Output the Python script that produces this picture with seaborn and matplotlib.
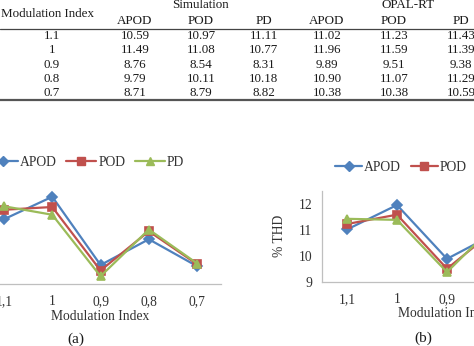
import matplotlib
matplotlib.use("Agg")
import matplotlib.pyplot as plt
from matplotlib.lines import Line2D
import seaborn as sns
import pandas as pd

# ---- data ----
mod_index_table = ["1.1", "1", "0.9", "0.8", "0.7"]
mod_index_axis = ["1,1", "1", "0,9", "0,8", "0,7"]
methods = ["APOD", "POD", "PD"]
sim_apod = [10.59, 11.49, 8.76, 9.79, 8.71]
sim_pod = [10.97, 11.08, 8.54, 10.11, 8.79]
sim_pd = [11.11, 10.77, 8.31, 10.18, 8.82]
opal_apod = [11.02, 11.96, 9.89, 10.90, 10.38]
opal_pod = [11.23, 11.59, 9.51, 11.07, 10.38]
opal_pd = [11.43, 11.39, 9.38, 11.29, 10.59]
colors = ["#4F81BD", "#C0504D", "#9BBB59"]
markers = ["D", "s", "^"]

sns.set_style("white")
plt.rcParams["font.family"] = ["Liberation Serif", "DejaVu Serif"]

W, H = 474, 346
fig = plt.figure(figsize=(W / 100, H / 100), dpi=100)
fig.patch.set_facecolor("white")


def fx(x):
    return x / W


def fy(y):
    return 1 - y / H


# ---- table ----
tc = "#1a1a1a"
fs_tab = 9.4
fig.text(fx(1), fy(14), "Modulation Index", ha="left", va="center", fontsize=fs_tab, color=tc)
fig.text(fx(200), fy(5), "Simulation", ha="center", va="center", fontsize=fs_tab, color=tc)
fig.text(fx(408), fy(5), "OPAL-RT", ha="center", va="center", fontsize=fs_tab, color=tc)
col_x = [135, 201, 264, 327, 394, 461]
for cx, name in zip(col_x, methods + methods):
    fig.text(fx(cx), fy(21), name, ha="center", va="center", fontsize=fs_tab, color=tc)
fig.add_artist(Line2D([0, 1], [fy(29), fy(29)], color="#444444", lw=0.9))
fig.add_artist(Line2D([0, 1], [fy(100.5), fy(100.5)], color="#555555", lw=1.6))
columns = [sim_apod, sim_pod, sim_pd, opal_apod, opal_pod, opal_pd]
for i, lab in enumerate(mod_index_table):
    ry = 36 + 14.25 * i
    fig.text(fx(52), fy(ry), lab, ha="center", va="center", fontsize=fs_tab, color=tc)
    for cx, col in zip(col_x, columns):
        fig.text(fx(cx), fy(ry), f"{col[i]:.2f}", ha="center", va="center",
                 fontsize=fs_tab, color=tc)


# ---- charts ----
def make_df(a, p, d):
    rows = []
    for name, vals in zip(methods, [a, p, d]):
        for mi, v in zip(mod_index_axis, vals):
            rows.append({"MI": mi, "THD": v, "Method": name})
    return pd.DataFrame(rows)


txt = "#333333"
spine_c = "#BFBFBF"


def draw(ax, df, ylim, yticks):
    sns.pointplot(data=df, x="MI", y="THD", hue="Method", order=mod_index_axis,
                  hue_order=methods, palette=colors, markers=markers,
                  linestyles="-", errorbar=None, ax=ax, legend=False,
                  markersize=5.5, linewidth=1.6)
    ax.set_xlim(-0.5, 4.5)
    ax.set_ylim(*ylim)
    ax.set_yticks(yticks)
    for s in ["top", "right"]:
        ax.spines[s].set_visible(False)
    for s in ["left", "bottom"]:
        ax.spines[s].set_color(spine_c)
        ax.spines[s].set_linewidth(0.9)
    ax.set_xticks([-0.5 + k for k in range(6)], minor=True)
    ax.tick_params(axis="x", which="major", length=0, pad=8, labelsize=9.8, colors=txt)
    ax.tick_params(axis="x", which="minor", length=4, width=0.8, color=spine_c, direction="out")
    ax.tick_params(axis="y", length=0, pad=7, labelsize=9.8, colors=txt)
    ax.set_xlabel("Modulation Index", fontsize=9.8, color=txt)
    ax.grid(False)
    ax.set_facecolor("white")


handles = [Line2D([0], [0], color=c, marker=m, lw=1.6, markersize=5.5)
           for c, m in zip(colors, markers)]

# left (a): simulation (its y axis lies outside the cropped picture)
axL = fig.add_axes([fx(-20.2), fy(284), fx(241.5), (284 - 171.5) / H])
draw(axL, make_df(sim_apod, sim_pod, sim_pd), (8, 12.5), [8, 9, 10, 11, 12])
axL.set_ylabel("")
axL.tick_params(axis="y", labelleft=False)
axL.xaxis.set_label_coords(0.5, -0.235)
fig.legend(handles=handles, labels=methods, loc="center left",
           bbox_to_anchor=(fx(-12), fy(162)), ncol=3, frameon=False,
           fontsize=9.8, handlelength=2.2, handletextpad=0.15,
           columnspacing=0.7, borderpad=0, borderaxespad=0, labelcolor=txt)

# right (b): OPAL-RT
axR = fig.add_axes([fx(322), fy(282), fx(250), (282 - 191) / H])
draw(axR, make_df(opal_apod, opal_pod, opal_pd), (9, 12.5), [9, 10, 11, 12])
axR.set_ylabel("% THD", fontsize=9.8, color=txt)
axR.yaxis.set_label_coords(-0.145, 0.505)
axR.xaxis.set_label_coords(0.5, -0.27)
fig.legend(handles=handles, labels=methods, loc="center left",
           bbox_to_anchor=(fx(335), fy(167)), ncol=3, frameon=False,
           fontsize=9.8, handlelength=2.0, handletextpad=0.15,
           columnspacing=0.7, borderpad=0, borderaxespad=0, labelcolor=txt)

fig.text(fx(76), fy(339), "(a)", ha="center", va="center", fontsize=11, color=tc)
fig.text(fx(423), fy(338), "(b)", ha="center", va="center", fontsize=11, color=tc)

fig.savefig("out.png", dpi=100, facecolor="white")
